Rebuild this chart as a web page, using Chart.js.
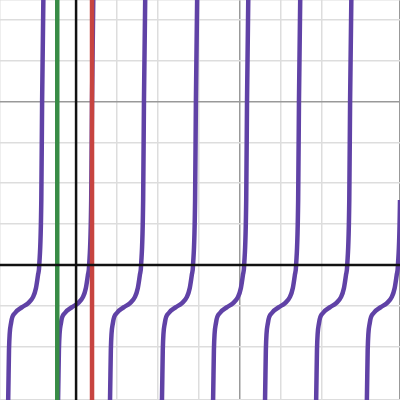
<!DOCTYPE html>
<html><head><meta charset="utf-8">
<script src="https://cdn.jsdelivr.net/npm/chart.js@4/dist/chart.umd.min.js"></script>
<style>html,body{margin:0;padding:0;background:#fff}#c{width:400px;height:400px}</style>
</head><body><div id="c"><canvas id="cv" width="400" height="400"></canvas></div>
<script>
// view window (units), one grid unit ~ 40.9px
const xMin = -1.86, xMax = 7.92, yMin = -3.3, yMax = 6.48;

// one branch of the purple curve (dx from branch start, y)
const branchDx = [-0.05, 0, 0.02, 0.07, 0.17, 0.34, 0.49, 0.61, 0.68, 0.73, 0.76, 0.81, 0.83, 0.86, 0.87];
const branchY  = [-4.03, -3.3, -2.08, -1.42, -1.17, -1.03, -0.93, -0.78, -0.56, -0.24, 0, 1.59, 4.03, 6.48, 6.97];
// x where each branch leaves the bottom edge
const branchStart = [-2.93, -1.66, -0.44, 0.83, 2.10, 3.35, 4.62, 5.87, 7.11, 8.36];

const greenX = -0.46;
const redX = 0.39;

const purple = branchStart.map(s => ({
  data: branchDx.map((d, i) => ({x: s + d, y: branchY[i]})),
  borderColor: '#6042a6', borderWidth: 4.5, showLine: true, pointRadius: 0, tension: 0.4, cubicInterpolationMode: 'monotone'
}));

function vline(x, color, w) {
  return {data: [{x, y: yMin - 1}, {x, y: yMax + 1}], borderColor: color, borderWidth: w, showLine: true, pointRadius: 0};
}
function hline(y, color, w) {
  return {data: [{x: xMin - 1, y}, {x: xMax + 1, y}], borderColor: color, borderWidth: w, showLine: true, pointRadius: 0};
}

const gridColor = ctx => (Math.round(ctx.tick.value) % 4 === 0 ? '#999999' : '#dddddd');

new Chart(document.getElementById('cv'), {
  type: 'scatter',
  data: {datasets: [
    vline(0, '#111', 2.5), hline(0, '#111', 2.5),
    vline(greenX, '#388c46', 4.5), vline(redX, '#c74440', 4.5),
    ...purple
  ]},
  options: {
    responsive: false, animation: false,
    layout: {padding: 0},
    plugins: {legend: {display: false}, tooltip: {enabled: false}},
    scales: {
      x: {type: 'linear', min: xMin, max: xMax, ticks: {stepSize: 1, display: false}, grid: {color: gridColor, lineWidth: 1.5, drawTicks: false}, border: {display: false}},
      y: {type: 'linear', min: yMin, max: yMax, ticks: {stepSize: 1, display: false}, grid: {color: gridColor, lineWidth: 1.5, drawTicks: false}, border: {display: false}}
    }
  }
});
</script></body></html>
